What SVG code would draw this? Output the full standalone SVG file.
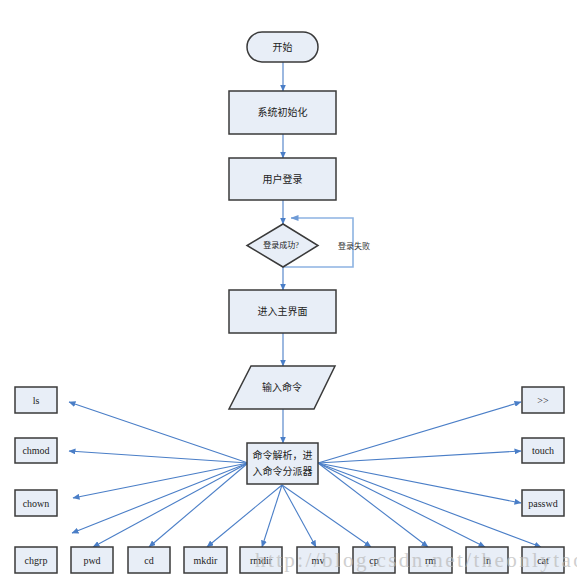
<svg xmlns="http://www.w3.org/2000/svg" width="577" height="580" viewBox="0 0 577 580">
<style>
.box{fill:#E8EEF7;stroke:#3a3a3a;stroke-width:1.5}
.t{font-family:"Liberation Serif","Noto Sans CJK SC",serif;font-size:10px;fill:#222;text-anchor:middle;dominant-baseline:central}
.s{font-size:8px}
.c{fill:none;stroke:#4A7EC7;stroke-width:1.1}
.loop{fill:none;stroke:#8DB3E2;stroke-width:1.6}
.wm{font-family:"Liberation Serif",serif;font-size:21px;fill:#BBBBBB;opacity:0.7;letter-spacing:2.4px}
</style>
<defs>
<marker id="a" markerUnits="userSpaceOnUse" markerWidth="7" markerHeight="6" refX="6.5" refY="3" orient="auto">
<path d="M0,0 L7,3 L0,6 z" fill="#4A7EC7"/>
</marker>
<marker id="b" markerUnits="userSpaceOnUse" markerWidth="8" markerHeight="6" refX="7.5" refY="3" orient="auto">
<path d="M0,0 L8,3 L0,6 z" fill="#6F9BD6"/>
</marker>
</defs>
<g id="connectors">
<path class="c" marker-end="url(#a)" d="M283,62 V91"/>
<path class="c" marker-end="url(#a)" d="M283,134 V158"/>
<path class="c" marker-end="url(#a)" d="M283,200 V224"/>
<path class="c" marker-end="url(#a)" d="M283,267 V290"/>
<path class="c" marker-end="url(#a)" d="M283,333 V366"/>
<path class="c" marker-end="url(#a)" d="M283,409 V443"/>
<path class="loop" marker-end="url(#b)" d="M283,267 H353 V218 H291"/>
<path class="c" marker-end="url(#a)" d="M248,463 L69,402"/>
<path class="c" marker-end="url(#a)" d="M248,463 L69,451"/>
<path class="c" marker-end="url(#a)" d="M248,463 L73,498"/>
<path class="c" marker-end="url(#a)" d="M248,463 L72,533"/>
<path class="c" marker-end="url(#a)" d="M248,463 L93,547"/>
<path class="c" marker-end="url(#a)" d="M248,463 L149,547"/>
<path class="c" marker-end="url(#a)" d="M318,463 L521,402"/>
<path class="c" marker-end="url(#a)" d="M318,463 L521,451"/>
<path class="c" marker-end="url(#a)" d="M318,463 L521,503"/>
<path class="c" marker-end="url(#a)" d="M318,463 L541,547"/>
<path class="c" marker-end="url(#a)" d="M318,463 L485,547"/>
<path class="c" marker-end="url(#a)" d="M318,463 L428,547"/>
<path class="c" marker-end="url(#a)" d="M282,485 L207,547"/>
<path class="c" marker-end="url(#a)" d="M282,485 L262,547"/>
<path class="c" marker-end="url(#a)" d="M282,485 L316,547"/>
<path class="c" marker-end="url(#a)" d="M282,485 L371,547"/>
</g>
<g id="start"><rect class="box" x="247" y="32" width="71" height="30" rx="15"/><text class="t" x="282.5" y="47">开始</text></g>
<g id="init"><rect class="box" x="229" y="91" width="107" height="43"/><text class="t" x="282.5" y="112.5">系统初始化</text></g>
<g id="login"><rect class="box" x="229" y="158" width="107" height="42"/><text class="t" x="282.5" y="179">用户登录</text></g>
<g id="check"><polygon class="box" points="283,224 318,245.5 283,267 247,245.5"/><text class="t s" x="281" y="245">登录成功?</text></g>
<g id="fail-label"><text class="t s" x="354" y="246" style="fill:#333">登录失败</text></g>
<g id="main"><rect class="box" x="229" y="290" width="107" height="43"/><text class="t" x="282.5" y="311.5">进入主界面</text></g>
<g id="input"><polygon class="box" points="251,366 335,366 314,409 229,409"/><text class="t" x="282" y="387.5">输入命令</text></g>
<g id="dispatch"><rect class="box" x="247" y="443" width="71" height="41"/><text class="t" x="282.5" y="455">命令解析，进</text><text class="t" x="282.5" y="471">入命令分派器</text></g>
<g id="ls"><rect class="box" x="15" y="387" width="42" height="26"/><text class="t" x="36" y="400">ls</text></g>
<g id="chmod"><rect class="box" x="15" y="438" width="42" height="25"/><text class="t" x="36" y="450.5">chmod</text></g>
<g id="chown"><rect class="box" x="15" y="490" width="42" height="26"/><text class="t" x="36" y="503">chown</text></g>
<g id="chgrp"><rect class="box" x="15" y="547" width="42" height="26"/><text class="t" x="36" y="560">chgrp</text></g>
<g id="pwd"><rect class="box" x="71" y="547" width="42" height="26"/><text class="t" x="92" y="560">pwd</text></g>
<g id="cd"><rect class="box" x="128" y="547" width="42" height="26"/><text class="t" x="149" y="560">cd</text></g>
<g id="mkdir"><rect class="box" x="184" y="547" width="43" height="26"/><text class="t" x="205.5" y="560">mkdir</text></g>
<g id="rmdir"><rect class="box" x="240" y="547" width="42" height="26"/><text class="t" x="261" y="560">rmdir</text></g>
<g id="mv"><rect class="box" x="297" y="547" width="42" height="26"/><text class="t" x="318" y="560">mv</text></g>
<g id="cp"><rect class="box" x="353" y="547" width="42" height="26"/><text class="t" x="374" y="560">cp</text></g>
<g id="rm"><rect class="box" x="409" y="547" width="43" height="26"/><text class="t" x="430.5" y="560">rm</text></g>
<g id="ln"><rect class="box" x="466" y="547" width="42" height="26"/><text class="t" x="487" y="560">ln</text></g>
<g id="cat"><rect class="box" x="522" y="547" width="42" height="26"/><text class="t" x="543" y="560">cat</text></g>
<g id="append"><rect class="box" x="522" y="387" width="42" height="26"/><text class="t" x="543" y="400">&gt;&gt;</text></g>
<g id="touch"><rect class="box" x="522" y="438" width="42" height="25"/><text class="t" x="543" y="450.5">touch</text></g>
<g id="passwd"><rect class="box" x="522" y="490" width="42" height="26"/><text class="t" x="543" y="503">passwd</text></g>
<text class="wm" x="255" y="567">http://blog.csdn.net/theonlytao</text>
</svg>
